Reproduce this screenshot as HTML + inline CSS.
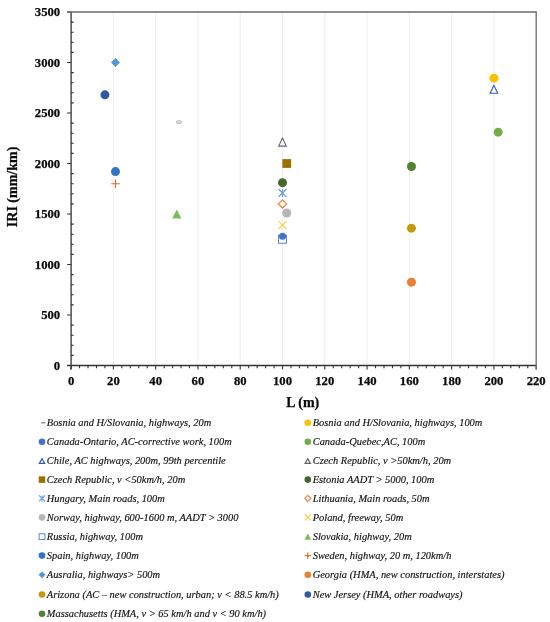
<!DOCTYPE html>
<html><head><meta charset="utf-8"><title>IRI vs L</title>
<style>html,body{margin:0;padding:0;background:#fff}svg{display:block}.t{font-family:"Liberation Serif",serif;font-weight:bold;font-size:12.7px;fill:#0a0a0a;stroke:#0a0a0a;stroke-width:0.25px}.at{font-family:"Liberation Serif",serif;font-weight:bold;font-size:14px;fill:#0a0a0a;stroke:#0a0a0a;stroke-width:0.25px}.lg{font-family:"Liberation Serif",serif;font-style:italic;font-size:10.43px;fill:#111;stroke:#111;stroke-width:0.15px}</style></head><body>
<svg width="550" height="622" viewBox="0 0 550 622">
<rect width="550" height="622" fill="#fff"/>
<line x1="113.38" y1="12.0" x2="113.38" y2="365.5" stroke="#f0f0f0" stroke-width="1.1"/>
<line x1="155.66" y1="12.0" x2="155.66" y2="365.5" stroke="#f0f0f0" stroke-width="1.1"/>
<line x1="197.95" y1="12.0" x2="197.95" y2="365.5" stroke="#f0f0f0" stroke-width="1.1"/>
<line x1="240.23" y1="12.0" x2="240.23" y2="365.5" stroke="#f0f0f0" stroke-width="1.1"/>
<line x1="282.51" y1="12.0" x2="282.51" y2="365.5" stroke="#f0f0f0" stroke-width="1.1"/>
<line x1="324.79" y1="12.0" x2="324.79" y2="365.5" stroke="#f0f0f0" stroke-width="1.1"/>
<line x1="367.07" y1="12.0" x2="367.07" y2="365.5" stroke="#f0f0f0" stroke-width="1.1"/>
<line x1="409.35" y1="12.0" x2="409.35" y2="365.5" stroke="#f0f0f0" stroke-width="1.1"/>
<line x1="451.64" y1="12.0" x2="451.64" y2="365.5" stroke="#f0f0f0" stroke-width="1.1"/>
<line x1="493.92" y1="12.0" x2="493.92" y2="365.5" stroke="#f0f0f0" stroke-width="1.1"/>
<path d="M71.10 12.0 V369.50 M67.10 365.5 H536.20" fill="none" stroke="#333" stroke-width="1.3"/>
<path d="M67.10 365.50H71.10M71.10 355.40h2.6M71.10 345.30h2.6M71.10 335.20h2.6M71.10 325.10h2.6M67.10 315.00H71.10M71.10 304.90h2.6M71.10 294.80h2.6M71.10 284.70h2.6M71.10 274.60h2.6M67.10 264.50H71.10M71.10 254.40h2.6M71.10 244.30h2.6M71.10 234.20h2.6M71.10 224.10h2.6M67.10 214.00H71.10M71.10 203.90h2.6M71.10 193.80h2.6M71.10 183.70h2.6M71.10 173.60h2.6M67.10 163.50H71.10M71.10 153.40h2.6M71.10 143.30h2.6M71.10 133.20h2.6M71.10 123.10h2.6M67.10 113.00H71.10M71.10 102.90h2.6M71.10 92.80h2.6M71.10 82.70h2.6M71.10 72.60h2.6M67.10 62.50H71.10M71.10 52.40h2.6M71.10 42.30h2.6M71.10 32.20h2.6M71.10 22.10h2.6M67.10 12.00H71.10M71.10 365.5v4M79.56 365.5v2.8M88.01 365.5v2.8M96.47 365.5v2.8M104.93 365.5v2.8M113.38 365.5v4M121.84 365.5v2.8M130.29 365.5v2.8M138.75 365.5v2.8M147.21 365.5v2.8M155.66 365.5v4M164.12 365.5v2.8M172.58 365.5v2.8M181.03 365.5v2.8M189.49 365.5v2.8M197.95 365.5v4M206.40 365.5v2.8M214.86 365.5v2.8M223.31 365.5v2.8M231.77 365.5v2.8M240.23 365.5v4M248.68 365.5v2.8M257.14 365.5v2.8M265.60 365.5v2.8M274.05 365.5v2.8M282.51 365.5v4M290.97 365.5v2.8M299.42 365.5v2.8M307.88 365.5v2.8M316.33 365.5v2.8M324.79 365.5v4M333.25 365.5v2.8M341.70 365.5v2.8M350.16 365.5v2.8M358.62 365.5v2.8M367.07 365.5v4M375.53 365.5v2.8M383.99 365.5v2.8M392.44 365.5v2.8M400.90 365.5v2.8M409.35 365.5v4M417.81 365.5v2.8M426.27 365.5v2.8M434.72 365.5v2.8M443.18 365.5v2.8M451.64 365.5v4M460.09 365.5v2.8M468.55 365.5v2.8M477.01 365.5v2.8M485.46 365.5v2.8M493.92 365.5v4M502.37 365.5v2.8M510.83 365.5v2.8M519.29 365.5v2.8M527.74 365.5v2.8M536.20 365.5v4" fill="none" stroke="#333" stroke-width="1.1"/>
<path d="M67.10 12.0 H536.20 V369.50" fill="none" stroke="#6a6a6a" stroke-width="1.3"/>
<text class="t" x="60.2" y="369.60" text-anchor="end">0</text>
<text class="t" x="60.2" y="319.10" text-anchor="end">500</text>
<text class="t" x="60.2" y="268.60" text-anchor="end">1000</text>
<text class="t" x="60.2" y="218.10" text-anchor="end">1500</text>
<text class="t" x="60.2" y="167.60" text-anchor="end">2000</text>
<text class="t" x="60.2" y="117.10" text-anchor="end">2500</text>
<text class="t" x="60.2" y="66.60" text-anchor="end">3000</text>
<text class="t" x="60.2" y="16.10" text-anchor="end">3500</text>
<text class="t" x="71.10" y="384.5" text-anchor="middle">0</text>
<text class="t" x="113.38" y="384.5" text-anchor="middle">20</text>
<text class="t" x="155.66" y="384.5" text-anchor="middle">40</text>
<text class="t" x="197.95" y="384.5" text-anchor="middle">60</text>
<text class="t" x="240.23" y="384.5" text-anchor="middle">80</text>
<text class="t" x="282.51" y="384.5" text-anchor="middle">100</text>
<text class="t" x="324.79" y="384.5" text-anchor="middle">120</text>
<text class="t" x="367.07" y="384.5" text-anchor="middle">140</text>
<text class="t" x="409.35" y="384.5" text-anchor="middle">160</text>
<text class="t" x="451.64" y="384.5" text-anchor="middle">180</text>
<text class="t" x="493.92" y="384.5" text-anchor="middle">200</text>
<text class="t" x="536.20" y="384.5" text-anchor="middle">220</text>
<text class="at" x="302.7" y="406.7" text-anchor="middle">L (m)</text>
<text class="at" transform="translate(17.4 186.9) rotate(-90)" text-anchor="middle">IRI (mm/km)</text>
<rect x="176.32" y="120.89" width="5.2" height="2.4" rx="1" fill="#e4e4e4" stroke="#a5a5a5" stroke-width="0.8"/>
<circle cx="493.92" cy="78.15" r="4.5" fill="#ffc000"/>
<circle cx="498.15" cy="132.19" r="4.5" fill="#70ad47"/>
<path d="M493.92 85.26L497.72 93.26L490.12 93.26Z" fill="#fff" stroke="#2e5fa7" stroke-width="1.1"/>
<path d="M282.51 138.09L286.31 146.09L278.71 146.09Z" fill="#fff" stroke="#636363" stroke-width="1.1"/>
<rect x="282.34" y="159.10" width="8.8" height="8.8" fill="#997300"/>
<circle cx="282.51" cy="182.69" r="4.5" fill="#43682b"/>
<path d="M278.51 188.99l8.0 8.0M286.51 188.99l-8.0 8.0" stroke="#69a1e0" stroke-width="1.2" fill="none"/><path d="M282.51 188.99v8.0" stroke="#69a1e0" stroke-width="1.2" fill="none"/>
<path d="M282.51 199.80L286.61 203.90L282.51 208.00L278.41 203.90Z" fill="#fff" stroke="#f0884a" stroke-width="1.3"/>
<circle cx="286.74" cy="212.99" r="4.5" fill="#b7b7b7"/>
<path d="M278.51 221.11l8.0 8.0M286.51 221.11l-8.0 8.0" stroke="#ffcd33" stroke-width="1.1" fill="none"/>
<rect x="278.51" y="235.25" width="8.0" height="8.0" fill="#fff" stroke="#5585d6" stroke-width="1.0"/>
<path d="M176.80 209.60L181.40 218.40L172.20 218.40Z" fill="#7cbf5a"/>
<circle cx="115.50" cy="171.58" r="4.5" fill="#2f75c6"/>
<path d="M111.30 183.70h8.4M115.50 179.50v8.4" stroke="#dd6c22" stroke-width="1.1" fill="none"/>
<path d="M115.50 58.00L120.00 62.50L115.50 67.00L111.00 62.50Z" fill="#5196d6"/>
<circle cx="411.47" cy="282.18" r="4.5" fill="#ed7d31"/>
<circle cx="411.47" cy="228.14" r="4.5" fill="#c49a0c"/>
<circle cx="104.93" cy="94.82" r="4.5" fill="#335aa1"/>
<circle cx="411.47" cy="166.53" r="4.5" fill="#548235"/>
<circle cx="282.51" cy="236.22" r="3.5" fill="#4472c4"/>
<rect x="41.30" y="421.90" width="4" height="1.6" rx="0.6" fill="#8f8f8f"/>
<text class="lg" x="46.8" y="426.3">Bosnia and H/Slovania, highways, 20m</text>
<circle cx="307.80" cy="422.70" r="3.3" fill="#ffc000"/>
<text class="lg" x="312.7" y="426.3">Bosnia and H/Slovania, highways, 100m</text>
<circle cx="42.00" cy="441.70" r="3.3" fill="#4472c4"/>
<text class="lg" x="46.8" y="445.3">Canada-Ontario, AC-corrective work, 100m</text>
<circle cx="307.80" cy="441.70" r="3.3" fill="#70ad47"/>
<text class="lg" x="312.7" y="445.3">Canada-Quebec,AC, 100m</text>
<path d="M42.00 458.80L44.70 463.40L39.30 463.40Z" fill="#fff" stroke="#2e5fa7" stroke-width="1.2"/>
<text class="lg" x="46.8" y="464.4">Chile, AC highways, 200m, 99th percentile</text>
<path d="M307.80 458.80L310.50 463.40L305.10 463.40Z" fill="#fff" stroke="#636363" stroke-width="1.2"/>
<text class="lg" x="312.7" y="464.4">Czech Republic, v &gt;50km/h, 20m</text>
<rect x="38.75" y="476.35" width="6.5" height="6.5" fill="#997300"/>
<text class="lg" x="46.8" y="483.2">Czech Republic, v &lt;50km/h, 20m</text>
<circle cx="307.80" cy="479.60" r="3.3" fill="#43682b"/>
<text class="lg" x="312.7" y="483.2">Estonia AADT &gt; 5000, 100m</text>
<path d="M39.00 495.40l6.0 6.0M45.00 495.40l-6.0 6.0" stroke="#69a1e0" stroke-width="1.2" fill="none"/><path d="M42.00 495.40v6.0" stroke="#69a1e0" stroke-width="1.2" fill="none"/>
<text class="lg" x="46.8" y="502.0">Hungary, Main roads, 100m</text>
<path d="M307.80 495.30L310.90 498.40L307.80 501.50L304.70 498.40Z" fill="#fff" stroke="#f0884a" stroke-width="1.2"/>
<text class="lg" x="312.7" y="502.0">Lithuania, Main roads, 50m</text>
<circle cx="42.00" cy="517.40" r="3.3" fill="#b7b7b7"/>
<text class="lg" x="46.8" y="521.0">Norway, highway, 600-1600 m, AADT &gt; 3000</text>
<path d="M304.80 514.40l6.0 6.0M310.80 514.40l-6.0 6.0" stroke="#ffcd33" stroke-width="1.2" fill="none"/>
<text class="lg" x="312.7" y="521.0">Poland, freeway, 50m</text>
<rect x="39.10" y="533.80" width="5.8" height="5.8" fill="#fff" stroke="#5585d6" stroke-width="1.0"/>
<text class="lg" x="46.8" y="540.3">Russia, highway, 100m</text>
<path d="M307.80 533.60L311.20 539.80L304.40 539.80Z" fill="#7cbf5a"/>
<text class="lg" x="312.7" y="540.3">Slovakia, highway, 20m</text>
<circle cx="42.00" cy="555.60" r="3.3" fill="#2f75c6"/>
<text class="lg" x="46.8" y="559.2">Spain, highway, 100m</text>
<path d="M304.70 555.60h6.2M307.80 552.50v6.2" stroke="#dd6c22" stroke-width="1.2" fill="none"/>
<text class="lg" x="312.7" y="559.2">Sweden, highway, 20 m, 120km/h</text>
<path d="M42.00 571.40L45.40 574.80L42.00 578.20L38.60 574.80Z" fill="#5196d6"/>
<text class="lg" x="46.8" y="578.4">Ausralia, highways&gt; 500m</text>
<circle cx="307.80" cy="574.80" r="3.3" fill="#ed7d31"/>
<text class="lg" x="312.7" y="578.4">Georgia (HMA, new construction, interstates)</text>
<circle cx="42.00" cy="594.50" r="3.3" fill="#c49a0c"/>
<text class="lg" x="46.8" y="598.1">Arizona (AC – new construction, urban; v &lt; 88.5 km/h)</text>
<circle cx="307.80" cy="594.50" r="3.3" fill="#335aa1"/>
<text class="lg" x="312.7" y="598.1">New Jersey (HMA, other roadways)</text>
<circle cx="42.00" cy="613.70" r="3.3" fill="#548235"/>
<text class="lg" x="46.8" y="617.3">Massachusetts (HMA, v &gt; 65 km/h and v &lt; 90 km/h)</text>
</svg></body></html>
